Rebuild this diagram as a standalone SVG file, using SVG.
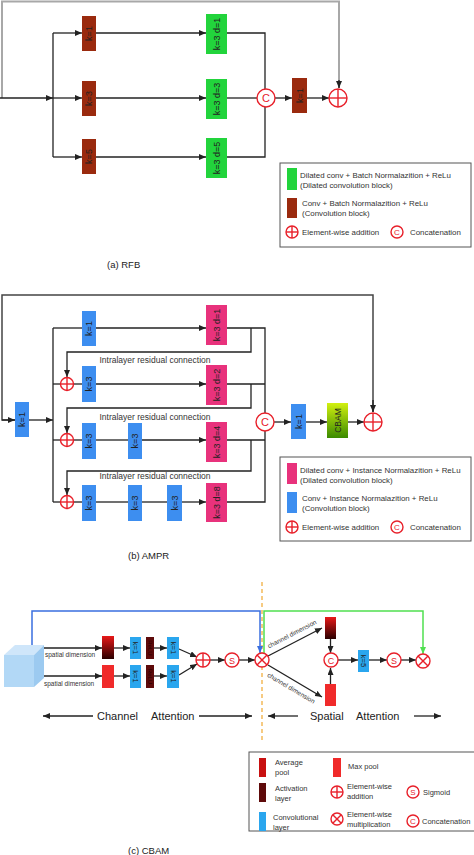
<svg xmlns="http://www.w3.org/2000/svg" width="474" height="855" viewBox="0 0 474 855">
<defs>
<style>
text{font-family:"Liberation Sans",Arial,sans-serif;fill:#222}
.ln{fill:none;stroke:#222;stroke-width:1.3}
.ar{marker-end:url(#ah)}
.brown{fill:#9a2a0e}
.green{fill:#22d43c}
.blue{fill:#3d8ef0}
.pink{fill:#e8327c}
.cblue{fill:#2aa6ee}
.act{fill:#5e0a0a}
.maxp{fill:#f02a2a}
.op{fill:#fff;stroke:#e8202a;stroke-width:1.4}
.opl{stroke:#e8202a;stroke-width:1.4}
.opt{fill:#e8202a;font-size:11px}
.k{font-family:"Liberation Sans",Arial,sans-serif;font-size:9px;fill:#222}
.leg{font-size:7.9px;fill:#333}
.cap{font-size:9.5px;fill:#222}
.irc{font-size:8.5px;fill:#333}
.legbox{fill:#fff;stroke:#555;stroke-width:1}
</style>
<marker id="ah" viewBox="0 0 7 6" refX="7" refY="3" markerWidth="7" markerHeight="6" markerUnits="userSpaceOnUse" orient="auto"><path d="M0,0 L7,3 L0,6 z" fill="#222"/></marker>
<marker id="ahb" viewBox="0 0 7 6" refX="7" refY="3" markerWidth="7" markerHeight="6" markerUnits="userSpaceOnUse" orient="auto"><path d="M0,0 L7,3 L0,6 z" fill="#3a6fe0"/></marker>
<marker id="ahg" viewBox="0 0 7 6" refX="7" refY="3" markerWidth="7" markerHeight="6" markerUnits="userSpaceOnUse" orient="auto"><path d="M0,0 L7,3 L0,6 z" fill="#50e050"/></marker>
<linearGradient id="gcbam" x1="0" y1="0" x2="0" y2="1"><stop offset="0" stop-color="#d2f010"/><stop offset="1" stop-color="#3a8a00"/></linearGradient>
<linearGradient id="gavg" x1="0" y1="0" x2="0" y2="1"><stop offset="0" stop-color="#e81818"/><stop offset="1" stop-color="#2a0000"/></linearGradient>
</defs>

<!-- ===================== RFB ===================== -->
<g id="rfb-connectors">
<polyline points="2,98 2,1.5 339,1.5 339,88" fill="none" stroke="#a8a8a8" stroke-width="2"/>
<line x1="339" y1="80" x2="339" y2="88" class="ln ar"/>
<line x1="0" y1="98" x2="53" y2="98" class="ln ar"/>
<line x1="53" y1="33" x2="53" y2="157" class="ln"/>
<line x1="53" y1="33" x2="82" y2="33" class="ln ar"/>
<line x1="53" y1="98" x2="82" y2="98" class="ln ar"/>
<line x1="53" y1="157" x2="82" y2="157" class="ln ar"/>
<line x1="96" y1="33" x2="206" y2="33" class="ln ar"/>
<line x1="96" y1="98" x2="206" y2="98" class="ln ar"/>
<line x1="96" y1="157" x2="206" y2="157" class="ln ar"/>
<polyline points="227,33 265,33 265,157 227,157" class="ln"/>
<line x1="227" y1="98" x2="257" y2="98" class="ln"/>
<line x1="275" y1="98" x2="292" y2="98" class="ln ar"/>
<line x1="307" y1="98" x2="329" y2="98" class="ln ar"/>
</g>
<g id="rfb-b1"><rect x="82" y="16" width="14" height="35" class="brown"/><text class="k" transform="translate(89,33.5) rotate(-90)" text-anchor="middle" dominant-baseline="central">k=1</text></g>
<g id="rfb-b2"><rect x="82" y="81" width="14" height="35" class="brown"/><text class="k" transform="translate(89,98.5) rotate(-90)" text-anchor="middle" dominant-baseline="central">k=3</text></g>
<g id="rfb-b3"><rect x="82" y="139" width="14" height="35" class="brown"/><text class="k" transform="translate(89,156.5) rotate(-90)" text-anchor="middle" dominant-baseline="central">k=5</text></g>
<g id="rfb-g1"><rect x="206" y="14" width="21" height="40" class="green"/><text class="k" transform="translate(216.5,34) rotate(-90)" text-anchor="middle" dominant-baseline="central">k=3 d=1</text></g>
<g id="rfb-g2"><rect x="206" y="79" width="21" height="40" class="green"/><text class="k" transform="translate(216.5,99) rotate(-90)" text-anchor="middle" dominant-baseline="central">k=3 d=3</text></g>
<g id="rfb-g3"><rect x="206" y="138" width="21" height="40" class="green"/><text class="k" transform="translate(216.5,158) rotate(-90)" text-anchor="middle" dominant-baseline="central">k=3 d=5</text></g>
<g id="rfb-concat"><circle cx="266" cy="98" r="9" class="op"/><text x="266" y="98" class="opt" text-anchor="middle" dominant-baseline="central">C</text></g>
<g id="rfb-b4"><rect x="292" y="78" width="15" height="35" class="brown"/><text class="k" transform="translate(299.5,95.5) rotate(-90)" text-anchor="middle" dominant-baseline="central">k=1</text></g>
<g id="rfb-add"><circle cx="338" cy="98" r="9" class="op"/><line x1="329" y1="98" x2="347" y2="98" class="opl"/><line x1="338" y1="89" x2="338" y2="107" class="opl"/></g>
<g id="rfb-legend">
<rect x="280" y="163" width="191" height="84" class="legbox"/>
<rect x="287" y="168" width="10" height="22" class="green"/>
<text x="300" y="178" class="leg">Dilated conv + Batch Normalazition + ReLu</text>
<text x="300" y="188" class="leg">(Dilated convolution block)</text>
<rect x="287" y="198" width="10" height="20" class="brown"/>
<text x="302" y="206" class="leg">Conv + Batch Normalazition + ReLu</text>
<text x="302" y="216" class="leg">(Convolution block)</text>
<circle cx="292" cy="232" r="6" class="op"/><line x1="286" y1="232" x2="298" y2="232" class="opl"/><line x1="292" y1="226" x2="292" y2="238" class="opl"/>
<text x="302" y="235" class="leg">Element-wise addition</text>
<circle cx="397" cy="232" r="6" class="op"/><text x="397" y="232.5" text-anchor="middle" dominant-baseline="central" style="font-size:8px;fill:#e8202a">C</text>
<text x="410" y="235" class="leg">Concatenation</text>
</g>
<text x="107" y="268" class="cap">(a)  RFB</text>

<!-- ===================== AMPR ===================== -->
<g id="ampr-connectors">
<polyline points="15,420 2,420 2,295 373,295 373,412" fill="none" stroke="#444" stroke-width="1.5"/>
<line x1="373" y1="400" x2="373" y2="412" class="ln ar"/>
<line x1="2" y1="420" x2="15" y2="420" class="ln ar"/>
<line x1="29" y1="420" x2="53" y2="420" class="ln ar"/>
<line x1="53" y1="328" x2="53" y2="502" class="ln"/>
<line x1="53" y1="328" x2="82" y2="328" class="ln"/>
<line x1="53" y1="384" x2="60.5" y2="384" class="ln"/>
<line x1="53" y1="440" x2="60.5" y2="440" class="ln"/>
<line x1="53" y1="502" x2="60.5" y2="502" class="ln"/>
<line x1="73.5" y1="384" x2="82" y2="384" class="ln"/>
<line x1="73.5" y1="440" x2="82" y2="440" class="ln"/>
<line x1="73.5" y1="502" x2="82" y2="502" class="ln"/>
<line x1="96" y1="328" x2="206" y2="328" class="ln ar"/>
<line x1="96" y1="384" x2="206" y2="384" class="ln ar"/>
<line x1="96" y1="440" x2="128" y2="440" class="ln"/>
<line x1="142" y1="440" x2="206" y2="440" class="ln ar"/>
<line x1="96" y1="502" x2="128" y2="502" class="ln"/>
<line x1="142" y1="502" x2="167" y2="502" class="ln"/>
<line x1="182" y1="502" x2="206" y2="502" class="ln ar"/>
<polyline points="227,328 265,328 265,502 227,502" class="ln"/>
<line x1="227" y1="384" x2="265" y2="384" class="ln"/>
<line x1="227" y1="440" x2="265" y2="440" class="ln"/>
<polyline points="251,328 251,352 67,352 67,377" class="ln ar"/>
<polyline points="251,384 251,408 67,408 67,433" class="ln ar"/>
<polyline points="251,440 251,471 67,471 67,495" class="ln ar"/>
<line x1="274" y1="422" x2="291" y2="422" class="ln ar"/>
<line x1="306" y1="422" x2="327" y2="422" class="ln ar"/>
<line x1="348" y1="422" x2="364" y2="422" class="ln ar"/>
</g>
<text x="155" y="363" class="irc" text-anchor="middle">Intralayer residual connection</text>
<text x="155" y="420" class="irc" text-anchor="middle">Intralayer residual connection</text>
<text x="155" y="479" class="irc" text-anchor="middle">Intralayer residual connection</text>
<g id="ampr-k1in"><rect x="15" y="402" width="14" height="35" class="blue"/><text class="k" transform="translate(22,419.5) rotate(-90)" text-anchor="middle" dominant-baseline="central">k=1</text></g>
<g id="ampr-r1b1"><rect x="82" y="311" width="14" height="35" class="blue"/><text class="k" transform="translate(89,328.5) rotate(-90)" text-anchor="middle" dominant-baseline="central">k=1</text></g>
<g id="ampr-r2b1"><rect x="82" y="366" width="14" height="36" class="blue"/><text class="k" transform="translate(89,384) rotate(-90)" text-anchor="middle" dominant-baseline="central">k=3</text></g>
<g id="ampr-r3b1"><rect x="82" y="423" width="14" height="36" class="blue"/><text class="k" transform="translate(89,441) rotate(-90)" text-anchor="middle" dominant-baseline="central">k=3</text></g>
<g id="ampr-r3b2"><rect x="128" y="423" width="14" height="36" class="blue"/><text class="k" transform="translate(135,441) rotate(-90)" text-anchor="middle" dominant-baseline="central">k=3</text></g>
<g id="ampr-r4b1"><rect x="82" y="485" width="14" height="36" class="blue"/><text class="k" transform="translate(89,503) rotate(-90)" text-anchor="middle" dominant-baseline="central">k=3</text></g>
<g id="ampr-r4b2"><rect x="128" y="485" width="14" height="36" class="blue"/><text class="k" transform="translate(135,503) rotate(-90)" text-anchor="middle" dominant-baseline="central">k=3</text></g>
<g id="ampr-r4b3"><rect x="167" y="485" width="15" height="36" class="blue"/><text class="k" transform="translate(174.5,503) rotate(-90)" text-anchor="middle" dominant-baseline="central">k=3</text></g>
<g id="ampr-p1"><rect x="206" y="305" width="21" height="40" class="pink"/><text class="k" transform="translate(216.5,325) rotate(-90)" text-anchor="middle" dominant-baseline="central">k=3 d=1</text></g>
<g id="ampr-p2"><rect x="206" y="365" width="21" height="40" class="pink"/><text class="k" transform="translate(216.5,385) rotate(-90)" text-anchor="middle" dominant-baseline="central">k=3 d=2</text></g>
<g id="ampr-p3"><rect x="206" y="422" width="21" height="40" class="pink"/><text class="k" transform="translate(216.5,442) rotate(-90)" text-anchor="middle" dominant-baseline="central">k=3 d=4</text></g>
<g id="ampr-p4"><rect x="206" y="483" width="21" height="39" class="pink"/><text class="k" transform="translate(216.5,502.5) rotate(-90)" text-anchor="middle" dominant-baseline="central">k=3 d=8</text></g>
<g id="ampr-add2"><circle cx="67" cy="384" r="6.5" class="op"/><line x1="60.5" y1="384" x2="73.5" y2="384" class="opl"/><line x1="67" y1="377.5" x2="67" y2="390.5" class="opl"/></g>
<g id="ampr-add3"><circle cx="67" cy="440" r="6.5" class="op"/><line x1="60.5" y1="440" x2="73.5" y2="440" class="opl"/><line x1="67" y1="433.5" x2="67" y2="446.5" class="opl"/></g>
<g id="ampr-add4"><circle cx="67" cy="502" r="6.5" class="op"/><line x1="60.5" y1="502" x2="73.5" y2="502" class="opl"/><line x1="67" y1="495.5" x2="67" y2="508.5" class="opl"/></g>
<g id="ampr-concat"><circle cx="265" cy="422" r="9" class="op"/><text x="265" y="422" class="opt" text-anchor="middle" dominant-baseline="central">C</text></g>
<g id="ampr-k1out"><rect x="291" y="404" width="15" height="35" class="blue"/><text class="k" transform="translate(298.5,421.5) rotate(-90)" text-anchor="middle" dominant-baseline="central">k=1</text></g>
<g id="ampr-cbam"><rect x="327" y="403" width="21" height="35" fill="url(#gcbam)"/><text class="k" transform="translate(337.5,420.5) rotate(-90)" text-anchor="middle" dominant-baseline="central" style="font-size:8.5px">CBAM</text></g>
<g id="ampr-add"><circle cx="373" cy="422" r="9" class="op"/><line x1="364" y1="422" x2="382" y2="422" class="opl"/><line x1="373" y1="413" x2="373" y2="431" class="opl"/></g>
<g id="ampr-legend">
<rect x="280" y="457" width="191" height="84" class="legbox"/>
<rect x="287" y="463" width="10" height="21" class="pink"/>
<text x="300" y="473" class="leg">Dilated conv + Instance Normalazition + ReLu</text>
<text x="300" y="483" class="leg">(Dilated convolution block)</text>
<rect x="287" y="492" width="10" height="21" class="blue"/>
<text x="302" y="501" class="leg">Conv + Instance Normalazition + ReLu</text>
<text x="302" y="511" class="leg">(Convolution block)</text>
<circle cx="292" cy="527" r="6" class="op"/><line x1="286" y1="527" x2="298" y2="527" class="opl"/><line x1="292" y1="521" x2="292" y2="533" class="opl"/>
<text x="302" y="530" class="leg">Element-wise addition</text>
<circle cx="397" cy="527" r="6" class="op"/><text x="397" y="527.5" text-anchor="middle" dominant-baseline="central" style="font-size:8px;fill:#e8202a">C</text>
<text x="410" y="530" class="leg">Concatenation</text>
</g>
<text x="128" y="559" class="cap">(b)  AMPR</text>

<!-- ===================== CBAM ===================== -->
<line x1="262" y1="582" x2="262" y2="742" stroke="#f0a830" stroke-width="1.2" stroke-dasharray="4,3"/>
<g id="cbam-connectors">
<polyline points="32,645 32,611 260,611 260,653" fill="none" stroke="#3a6fe0" stroke-width="1.5" marker-end="url(#ahb)"/>
<polyline points="264,653 264,611 423,611 423,654" fill="none" stroke="#50e050" stroke-width="1.5" marker-end="url(#ahg)"/>
<line x1="43" y1="648" x2="102" y2="648" class="ln ar"/>
<line x1="43" y1="676" x2="102" y2="676" class="ln ar"/>
<line x1="114" y1="648" x2="130" y2="648" class="ln ar"/>
<line x1="114" y1="676" x2="130" y2="676" class="ln ar"/>
<line x1="154" y1="648" x2="167" y2="648" class="ln ar"/>
<line x1="154" y1="676" x2="167" y2="676" class="ln ar"/>
<line x1="179" y1="649" x2="197" y2="657" class="ln ar"/>
<line x1="179" y1="675" x2="197" y2="664" class="ln ar"/>
<line x1="210" y1="660" x2="225" y2="660" class="ln ar"/>
<line x1="239" y1="660" x2="255" y2="660" class="ln ar"/>
<line x1="268" y1="656" x2="322" y2="628" class="ln ar"/>
<line x1="268" y1="665" x2="322" y2="697" class="ln ar"/>
<line x1="330.5" y1="639" x2="330.5" y2="653" class="ln ar"/>
<line x1="330.5" y1="684" x2="330.5" y2="668" class="ln ar"/>
<line x1="338" y1="660" x2="358" y2="660" class="ln ar"/>
<line x1="369" y1="660" x2="387" y2="660" class="ln ar"/>
<line x1="401" y1="660" x2="416" y2="660" class="ln ar"/>
</g>
<g id="cbam-cube">
<polygon points="4,655 15,645 44,645 34,655" fill="#cfe6fa"/>
<polygon points="34,655 44,645 44,678 34,687" fill="#9ccaf0"/>
<rect x="4" y="655" width="30" height="32" fill="#b2d8f6"/>
</g>
<text x="45" y="657" style="font-size:6.5px;fill:#333">spatial dimension</text>
<text x="44" y="686" style="font-size:6.5px;fill:#333">spatial dimension</text>
<g id="cbam-avg"><rect x="102" y="636" width="12" height="23" fill="url(#gavg)"/></g>
<g id="cbam-max"><rect x="102" y="665" width="12" height="23" class="maxp"/></g>
<g id="cbam-a1"><rect x="130" y="637" width="11" height="22" class="cblue"/><text transform="translate(135.5,648) rotate(90)" text-anchor="middle" dominant-baseline="central" style="font-size:7.5px">k=1</text></g>
<g id="cbam-a2"><rect x="130" y="665" width="11" height="23" class="cblue"/><text transform="translate(135.5,676.5) rotate(90)" text-anchor="middle" dominant-baseline="central" style="font-size:7.5px">k=1</text></g>
<g id="cbam-act1"><rect x="146" y="637" width="8" height="22" class="act"/><text transform="translate(150,648) rotate(90)" text-anchor="middle" dominant-baseline="central" style="font-size:6px;fill:#2a0000">ReLU</text></g>
<g id="cbam-act2"><rect x="146" y="665" width="8" height="23" class="act"/><text transform="translate(150,676.5) rotate(90)" text-anchor="middle" dominant-baseline="central" style="font-size:6px;fill:#2a0000">ReLU</text></g>
<g id="cbam-b1"><rect x="167" y="637" width="12" height="22" class="cblue"/><text transform="translate(173,648) rotate(90)" text-anchor="middle" dominant-baseline="central" style="font-size:7.5px">k=1</text></g>
<g id="cbam-b2"><rect x="167" y="665" width="12" height="23" class="cblue"/><text transform="translate(173,676.5) rotate(90)" text-anchor="middle" dominant-baseline="central" style="font-size:7.5px">k=1</text></g>
<g id="cbam-add"><circle cx="203" cy="660" r="7" class="op"/><line x1="196" y1="660" x2="210" y2="660" class="opl"/><line x1="203" y1="653" x2="203" y2="667" class="opl"/></g>
<g id="cbam-s1"><circle cx="232" cy="660" r="7" class="op"/><text x="232" y="660.5" text-anchor="middle" dominant-baseline="central" style="font-size:9px;fill:#e8202a">S</text></g>
<g id="cbam-mul1"><circle cx="262" cy="660" r="7" class="op"/><line x1="257" y1="655" x2="267" y2="665" class="opl"/><line x1="267" y1="655" x2="257" y2="665" class="opl"/></g>
<text transform="translate(293,636) rotate(-27.4)" text-anchor="middle" style="font-size:6.5px;fill:#333">channel dimension</text>
<text transform="translate(290,690) rotate(30.6)" text-anchor="middle" style="font-size:6.5px;fill:#333">channel dimension</text>
<g id="cbam-savg"><rect x="325" y="617" width="11" height="22" fill="url(#gavg)"/></g>
<g id="cbam-smax"><rect x="325" y="684" width="11" height="22" class="maxp"/></g>
<g id="cbam-concat"><circle cx="331" cy="660" r="7" class="op"/><text x="331" y="660.5" text-anchor="middle" dominant-baseline="central" style="font-size:9px;fill:#e8202a">C</text></g>
<g id="cbam-k5"><rect x="358" y="650" width="11" height="22" class="cblue"/><text transform="translate(363.5,661) rotate(90)" text-anchor="middle" dominant-baseline="central" style="font-size:7.5px">k=5</text></g>
<g id="cbam-s2"><circle cx="394" cy="660" r="7" class="op"/><text x="394" y="660.5" text-anchor="middle" dominant-baseline="central" style="font-size:9px;fill:#e8202a">S</text></g>
<g id="cbam-mul2"><circle cx="423" cy="661" r="7" class="op"/><line x1="418" y1="656" x2="428" y2="666" class="opl"/><line x1="428" y1="656" x2="418" y2="666" class="opl"/></g>

<g id="cbam-attn">
<text x="97" y="720" style="font-size:11px">Channel</text>
<text x="151" y="720" style="font-size:11px">Attention</text>
<line x1="93" y1="716" x2="43" y2="716" class="ln ar"/>
<line x1="199" y1="716" x2="252" y2="716" class="ln ar"/>
<text x="310" y="720" style="font-size:11px">Spatial</text>
<text x="356" y="720" style="font-size:11px">Attention</text>
<line x1="298" y1="716" x2="268" y2="716" class="ln ar"/>
<line x1="414" y1="716" x2="441" y2="716" class="ln ar"/>
</g>

<g id="cbam-legend">
<rect x="249" y="752" width="230" height="79" class="legbox"/>
<rect x="259" y="758" width="7" height="19" fill="#c81010"/>
<text x="275" y="765" style="font-size:7.5px;fill:#333">Average</text>
<text x="275" y="775" style="font-size:7.5px;fill:#333">pool</text>
<rect x="333" y="758" width="8" height="19" class="maxp"/>
<text x="348" y="769" style="font-size:7.5px;fill:#333">Max pool</text>
<rect x="259" y="783" width="7" height="19" class="act"/>
<text x="275" y="791" style="font-size:7.5px;fill:#333">Activation</text>
<text x="275" y="801" style="font-size:7.5px;fill:#333">layer</text>
<circle cx="337" cy="792" r="6" class="op"/><line x1="331" y1="792" x2="343" y2="792" class="opl"/><line x1="337" y1="786" x2="337" y2="798" class="opl"/>
<text x="347" y="789" style="font-size:7.5px;fill:#333">Element-wise</text>
<text x="347" y="799" style="font-size:7.5px;fill:#333">addition</text>
<circle cx="413" cy="792" r="6" class="op"/><text x="413" y="792.5" text-anchor="middle" dominant-baseline="central" style="font-size:8px;fill:#e8202a">S</text>
<text x="423" y="795" style="font-size:7.5px;fill:#333">Sigmoid</text>
<rect x="259" y="812" width="7" height="19" class="cblue"/>
<text x="273" y="820" style="font-size:7.5px;fill:#333">Convolutional</text>
<text x="273" y="830" style="font-size:7.5px;fill:#333">layer</text>
<circle cx="337" cy="819" r="6" class="op"/><line x1="333" y1="815" x2="341" y2="823" class="opl"/><line x1="341" y1="815" x2="333" y2="823" class="opl"/>
<text x="347" y="817" style="font-size:7.5px;fill:#333">Element-wise</text>
<text x="347" y="827" style="font-size:7.5px;fill:#333">multiplication</text>
<circle cx="413" cy="821" r="6" class="op"/><text x="413" y="821.5" text-anchor="middle" dominant-baseline="central" style="font-size:8px;fill:#e8202a">C</text>
<text x="422" y="824" style="font-size:7.5px;fill:#333">Concatenation</text>
</g>
<text x="128" y="854" class="cap">(c) CBAM</text>
</svg>
